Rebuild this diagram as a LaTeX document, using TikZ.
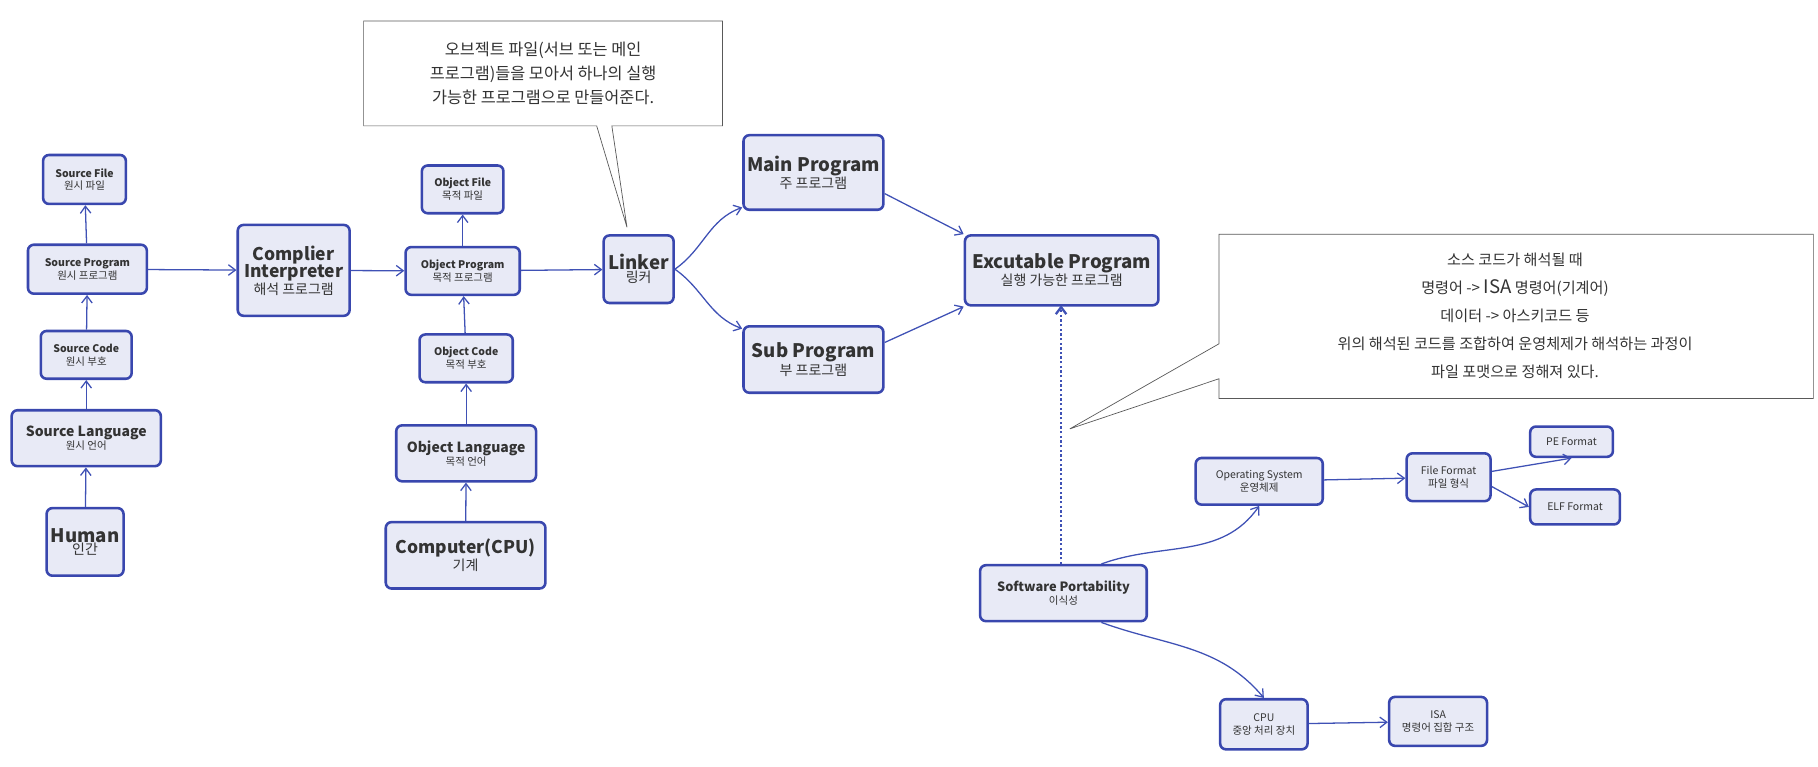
\documentclass[tikz,border=0pt]{standalone}
\usepackage{fontspec}
\setmainfont{Noto Sans CJK KR}
\usetikzlibrary{arrows.meta}
\definecolor{bd}{HTML}{3947AE}
\definecolor{fl}{HTML}{E8EAF6}
\definecolor{ln}{HTML}{3F51B5}
\definecolor{tx}{HTML}{333333}
\begin{document}
\begin{tikzpicture}[x=1pt,y=-1pt,
 bx/.style={draw=bd,fill=fl,line width=2.2pt,rounded corners=5pt,inner sep=2pt,align=center,text=tx,font=\fontsize{9}{11}\selectfont},
 ar/.style={draw=ln,line width=1.1pt,-{Straight Barb[length=6pt,width=9pt]}},
 co/.style={draw=gray!70!black,fill=white,line width=0.6pt}]
\useasboundingbox (0,0) rectangle (1560,658);
\newcommand{\bxat}[5]{\node[bx,minimum width=#3-#1,minimum height=#4-#2] (#5) at ({(#1+#3)/2},{(#2+#4)/2})}
\bxat{37}{133}{108}{175}{sf} {\textbf{Source File}\\원시 파일};
\bxat{24}{210}{126}{252}{sp} {\textbf{Source Program}\\원시 프로그램};
\bxat{35}{284}{113}{325}{sc} {\textbf{Source Code}\\원시 부호};
\bxat{10}{352}{138}{400}{sl} {\fontsize{12}{14}\selectfont\textbf{Source Language}\\\fontsize{9}{11}\selectfont 원시 언어};
\bxat{40}{436}{106}{494}{hu} {\fontsize{16}{18}\selectfont\textbf{Human}\\\fontsize{12}{14}\selectfont 인간};
\bxat{204}{193}{300}{271}{ci} {\fontsize{15}{17}\selectfont\textbf{Complier}\\\fontsize{15}{17}\selectfont\textbf{Interpreter}\\\fontsize{12}{14}\selectfont 해석 프로그램};
\bxat{362}{142}{432}{183}{of} {\textbf{Object File}\\목적 파일};
\bxat{348}{212}{446}{253}{op} {\textbf{Object Program}\\목적 프로그램};
\bxat{360}{287}{440}{328}{oc} {\textbf{Object Code}\\목적 부호};
\bxat{340}{365}{460}{413}{ol} {\fontsize{12}{14}\selectfont\textbf{Object Language}\\\fontsize{9}{11}\selectfont 목적 언어};
\bxat{331}{448}{468}{505}{cp} {\fontsize{15}{17}\selectfont\textbf{Computer(CPU)}\\\fontsize{12}{14}\selectfont 기계};
\bxat{518}{202}{578}{260}{lk} {\fontsize{16}{18}\selectfont\textbf{Linker}\\\fontsize{12}{14}\selectfont 링커};
\bxat{638}{116}{758}{180}{mp} {\fontsize{16}{18}\selectfont\textbf{Main Program}\\\fontsize{12}{14}\selectfont 주 프로그램};
\bxat{638}{280}{758}{337}{sb} {\fontsize{16}{18}\selectfont\textbf{Sub Program}\\\fontsize{12}{14}\selectfont 부 프로그램};
\bxat{828}{202}{994}{262}{ex} {\fontsize{16}{18}\selectfont\textbf{Excutable Program}\\\fontsize{12}{14}\selectfont 실행 가능한 프로그램};
\bxat{841}{485}{984}{533}{so} {\fontsize{11}{13}\selectfont\textbf{Software Portability}\\\fontsize{9}{11}\selectfont 이식성};
\bxat{1026}{393}{1135}{433}{os} {Operating System\\운영체제};
\bxat{1207}{389}{1279}{430}{ff} {File Format\\파일 형식};
\bxat{1313}{366}{1384}{392}{pe} {PE Format};
\bxat{1313}{420}{1390}{450}{el} {ELF Format};
\bxat{1047}{600}{1122}{643}{cu} {CPU\\중앙 처리 장치};
\bxat{1192}{598}{1276}{640}{is} {ISA\\명령어 집합 구조};
% arrows
\draw[ar] (sp)--(sf); \draw[ar] (sc)--(sp); \draw[ar] (sl)--(sc); \draw[ar] (hu)--(sl);
\draw[ar] (sp)--(ci); \draw[ar] (ci)--(op);
\draw[ar] (op)--(of); \draw[ar] (oc)--(op); \draw[ar] (ol)--(oc); \draw[ar] (cp)--(ol);
\draw[ar] (op)--(lk);
\draw[ar] (lk.east) to[out=35,in=200] (mp.west|-0,178);
\draw[ar] (lk.east) to[out=-35,in=160] (sb.west|-0,282);
\draw[ar] (mp.south east)++(0,-15) -- (ex.north west);
\draw[ar] (sb.north east)++(0,15) -- (ex.south west);
\draw[draw=ln,line width=2pt,dotted,-{Straight Barb[length=6pt,width=9pt]}] (so.north)++(-2,0) -- ++(0,-222) coordinate (dt);
\draw[ar] (so.north east)++(-40,0) to[out=20,in=235] (os.south);
\draw[ar] (so.south east)++(-40,0) to[out=-20,in=130] (cu.north);
\draw[ar] (os)--(ff); \draw[ar] (ff.east)++(0,-5) -- (pe.south);
\draw[ar] (ff.east)++(0,8) -- (el.west); \draw[ar] (cu)--(is);
% callouts
\draw[co] (312,18) -- (620,18) -- (620,108) -- (525,108) -- (538,195) -- (512,108) -- (312,108) -- cycle;
\node[align=center,text=tx,font=\fontsize{14}{21}\selectfont] (t1) at (466,63) {오브젝트 파일(서브 또는 메인\\프로그램)들을 모아서 하나의 실행\\가능한 프로그램으로 만들어준다.};
\draw[co] (1046,201) -- (1556,201) -- (1556,342) -- (1046,342) -- (1046,325) -- (918,368) -- (1046,295) -- cycle;
\node[align=center,text=tx,font=\fontsize{13}{24}\selectfont] (t2) at (1300,271) {소스 코드가 해석될 때\\명령어 -> {\fontsize{16}{24}\selectfont ISA} 명령어(기계어)\\데이터 -> 아스키코드 등\\위의 해석된 코드를 조합하여 운영체제가 해석하는 과정이\\파일 포맷으로 정해져 있다.};
\end{tikzpicture}
\end{document}
